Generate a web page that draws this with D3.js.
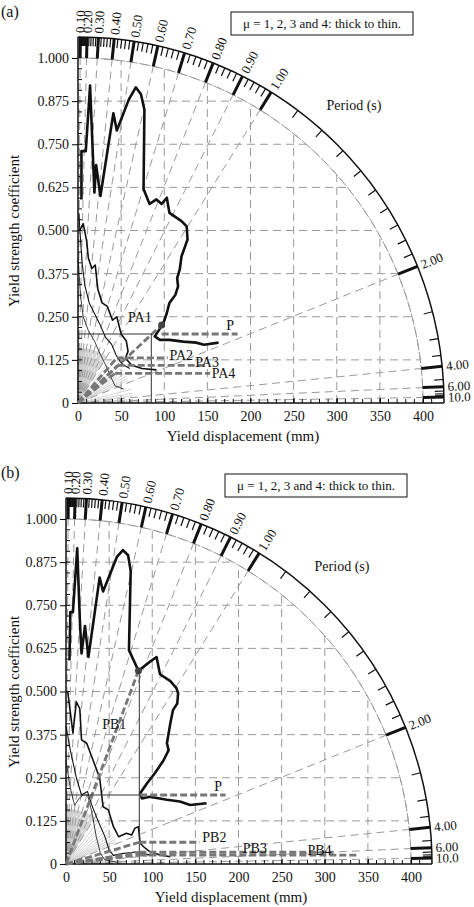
<!DOCTYPE html>
<html><head><meta charset="utf-8">
<script src="https://cdn.jsdelivr.net/npm/d3@7"></script>
<style>body{margin:0;background:#fff}svg{display:block}svg text{font-family:"Liberation Serif","Times New Roman",serif !important;fill:#111}</style>
</head><body>
<svg id="chart" width="474" height="907" font-family="Liberation Serif"></svg>
<script>
// axis ticks
const xTicks = [0, 50, 100, 150, 200, 250, 300, 350, 400];
const yTicks = [0, 0.125, 0.25, 0.375, 0.5, 0.625, 0.75, 0.875, 1.0];
const periodLabels = [0.1, 0.2, 0.3, 0.4, 0.5, 0.6, 0.7, 0.8, 0.9, 1.0, 2.0, 4.0, 6.0, 10.0];
const periodLabelText = ['0.10','0.20','0.30','0.40','0.50','0.60','0.70','0.80','0.90','1.00','2.00','4.00','6.00','10.0'];
const periodMinor = [0.11,0.12,0.13,0.14,0.15,0.16,0.17,0.18,0.19,0.22,0.24,0.26,0.28,0.32,0.34,0.36,0.38,0.42,0.44,0.46,0.48,
  0.52,0.54,0.56,0.58,0.62,0.64,0.66,0.68,0.72,0.74,0.76,0.78,0.82,0.84,0.86,0.88,0.92,0.94,0.96,0.98,
  1.1,1.2,1.3,1.4,1.5,1.6,1.7,1.8,1.9,2.5,3.0,3.5,5.0,7.0,8.0,9.0];

// panel (a) curves: [displacement mm, yield strength coefficient]
const a_mu1 = [[4,0.59],[4,0.73],[9,0.73],[14,0.92],[19,0.61],[21,0.69],[26,0.60],[41,0.84],[45,0.79],[59,0.88],[67,0.915],[73,0.895],[77,0.85],
  [76,0.62],[83,0.577],[91,0.59],[97,0.577],[103,0.595],[106,0.551],[120,0.527],[126,0.512],[127,0.474],[120,0.425],[118,0.387],[115,0.362],
  [116,0.338],[113,0.314],[106,0.29],[103,0.261],[99,0.232],[94,0.212],[89,0.193],[95,0.183],[106,0.183],[122,0.178],[137,0.175],[146,0.169],[163,0.175]];
const a_mu2 = [[2,0.50],[6,0.52],[10,0.47],[12,0.42],[16,0.39],[20,0.40],[23,0.33],[28,0.29],[34,0.28],[40,0.24],[45,0.25],[50,0.20],[56,0.18],
  [58,0.15],[55,0.13],[62,0.11],[74,0.10],[91,0.096]];
const a_mu3 = [[1,0.55],[3,0.47],[5,0.40],[8,0.34],[13,0.29],[19,0.26],[25,0.23],[32,0.19],[39,0.17],[44,0.14],[49,0.12],[53,0.11],[60,0.10]];
const a_mu4 = [[0,0.42],[3,0.31],[6,0.25],[12,0.21],[19,0.18],[26,0.14],[34,0.10],[39,0.07],[43,0.05],[48,0.045],[53,0.04]];

// panel (b) curves
const b_mu1 = [[4,0.59],[5,0.73],[8,0.73],[13,0.915],[16,0.71],[18,0.61],[22,0.69],[26,0.60],[39,0.83],[43,0.79],[59,0.89],[66,0.91],[72,0.895],
  [75,0.85],[73,0.62],[84,0.56],[94,0.58],[105,0.60],[109,0.55],[121,0.53],[128,0.51],[130,0.495],[129,0.465],[124,0.446],[121,0.408],
  [117,0.35],[119,0.33],[113,0.30],[103,0.263],[94,0.234],[86,0.205],[88,0.19],[97,0.195],[117,0.186],[132,0.181],[144,0.171],[163,0.176]];
const b_mu2 = [[2,0.50],[5,0.44],[8,0.38],[12,0.47],[16,0.45],[18,0.36],[24,0.35],[30,0.31],[39,0.25],[43,0.166],[49,0.157],[55,0.108],
  [61,0.079],[70,0.089],[76,0.084],[80,0.104],[84,0.108],[86,0.06],[90,0.05],[97,0.036],[109,0.026],[121,0.021]];
const b_mu3 = [[0,0.40],[5,0.33],[12,0.25],[18,0.20],[25,0.21],[30,0.17],[38,0.12],[45,0.08],[50,0.04],[55,0.025],[65,0.03],[80,0.035],[100,0.025]];
const b_mu4 = [[0,0.30],[5,0.22],[10,0.17],[15,0.19],[20,0.20],[25,0.20],[30,0.15],[35,0.08],[40,0.03],[45,0.012],[60,0.005]];

// performance points and lines
const a_points = [
  {name:'PA2', x:45, y:0.131, x1:45, x2:104, ly:0.131, lx:106, ty:0.14},
  {name:'PA3', x:46, y:0.109, x1:46, x2:147, ly:0.109, lx:136, ty:0.118},
  {name:'PA4', x:43, y:0.086, x1:43, x2:153, ly:0.086, lx:155, ty:0.086}];
const b_points = [
  {name:'PB2', x:85, y:0.063, x1:85, x2:155, ly:0.063, lx:158, ty:0.078},
  {name:'PB3', x:85, y:0.034, x1:85, x2:310, ly:0.034, lx:205, ty:0.045},
  {name:'PB4', x:85, y:0.026, x1:85, x2:339, ly:0.026, lx:280, ty:0.040}];

const svg = d3.select('#chart');
const R = 345, Rout = 366;
const FONT = 'Liberation Serif';

function drawPanel(cfg) {
  const ox = cfg.ox, oy = cfg.oy;
  const x = d3.scaleLinear().domain([0, 400]).range([ox, ox + R]);
  const y = d3.scaleLinear().domain([0, 1]).range([oy, oy - R]);
  const g = svg.append('g');
  const grey = '#9a9a9a';

  // angle of a period line
  const ang = T => { const xm = 9810 * Math.pow(T / (2 * Math.PI), 2); return Math.atan2(y(0) - y(1), x(xm) - x(0)); };
  const pt = (a, r) => [ox + r * Math.cos(a), oy - r * Math.sin(a)];

  // grid clipped to inner arc
  yTicks.slice(1).forEach(v => {
    const dy = oy - y(v); if (dy >= R) return;
    g.append('line').attr('x1', ox).attr('x2', ox + Math.sqrt(R * R - dy * dy)).attr('y1', y(v)).attr('y2', y(v))
      .attr('stroke', grey).attr('stroke-dasharray', '8,5').attr('stroke-width', 1);
  });
  xTicks.slice(1).forEach(v => {
    const dx = x(v) - ox; if (dx >= R) return;
    g.append('line').attr('x1', x(v)).attr('x2', x(v)).attr('y1', oy).attr('y2', oy - Math.sqrt(R * R - dx * dx))
      .attr('stroke', grey).attr('stroke-dasharray', '8,5').attr('stroke-width', 1);
  });
  // inner dashed arc + outer arc
  const arc = d3.arc();
  g.append('path').attr('transform', `translate(${ox},${oy})`)
    .attr('d', arc({innerRadius: R, outerRadius: R, startAngle: 0, endAngle: Math.PI / 2}))
    .attr('fill', 'none').attr('stroke', grey).attr('stroke-dasharray', '8,5');
  g.append('path').attr('transform', `translate(${ox},${oy})`)
    .attr('d', arc({innerRadius: Rout, outerRadius: Rout, startAngle: 0, endAngle: Math.PI / 2}))
    .attr('fill', 'none').attr('stroke', '#111').attr('stroke-width', 1.5);

  // radial period lines
  periodMinor.forEach(T => {
    const a = ang(T), p = pt(a, 55);
    g.append('line').attr('x1', ox).attr('y1', oy).attr('x2', p[0]).attr('y2', p[1]).attr('stroke', '#c8c8c8').attr('stroke-width', 0.8);
    const q1 = pt(a, Rout - 9), q2 = pt(a, Rout);
    g.append('line').attr('x1', q1[0]).attr('y1', q1[1]).attr('x2', q2[0]).attr('y2', q2[1]).attr('stroke', '#111').attr('stroke-width', 1.2);
  });
  periodLabels.forEach((T, i) => {
    const a = ang(T), p = pt(a, R);
    g.append('line').attr('x1', ox).attr('y1', oy).attr('x2', p[0]).attr('y2', p[1])
      .attr('stroke', grey).attr('stroke-dasharray', '8,5').attr('stroke-width', 1);
    const q2 = pt(a, Rout);
    g.append('line').attr('x1', p[0]).attr('y1', p[1]).attr('x2', q2[0]).attr('y2', q2[1]).attr('stroke', '#111').attr('stroke-width', 3);
    const t = pt(a, Rout + 4);
    g.append('text').attr('transform', `translate(${t[0]},${t[1]}) rotate(${-a * 180 / Math.PI})`)
      .attr('dy', '0.35em').attr('font-size', 13).text(periodLabelText[i]);
  });

  // axes
  const xa = g.append('g').attr('transform', `translate(0,${oy})`)
    .call(d3.axisBottom(x).tickValues(xTicks).tickSizeInner(-5).tickSizeOuter(0).tickPadding(8));
  xa.attr('font-family', FONT);
  xa.select('.domain').remove();
  xa.selectAll('text').attr('font-size', 14);
  g.append('line').attr('x1', ox).attr('x2', ox + Rout).attr('y1', oy).attr('y2', oy).attr('stroke', '#111').attr('stroke-width', 1.5);
  g.selectAll(null).data(d3.range(10, 420, 10)).join('line')
    .attr('x1', d => x(d)).attr('x2', d => x(d)).attr('y1', oy).attr('y2', oy - 4).attr('stroke', '#111');
  const ya = g.append('g').attr('transform', `translate(${ox},0)`)
    .call(d3.axisLeft(y).tickValues(yTicks).tickSize(6).tickPadding(3).tickFormat(d => d === 0 ? '0' : d3.format('.3f')(d)));
  ya.attr('font-family', FONT);
  ya.select('.domain').remove();
  ya.selectAll('text').attr('font-size', 14);
  g.append('line').attr('x1', ox).attr('x2', ox).attr('y1', oy).attr('y2', oy - Rout).attr('stroke', '#111').attr('stroke-width', 1.5);
  g.selectAll(null).data(d3.range(0.03125, 1.0, 0.03125)).join('line')
    .attr('x1', ox).attr('x2', ox + 4).attr('y1', d => y(d)).attr('y2', d => y(d)).attr('stroke', '#111');

  g.append('text').attr('x', ox + 165).attr('y', oy + 38).attr('text-anchor', 'middle').attr('font-size', 15).text('Yield displacement (mm)');
  g.append('text').attr('transform', `translate(19,${oy - 172}) rotate(-90)`).attr('text-anchor', 'middle')
    .attr('font-size', 15).text('Yield strength coefficient');

  // curves
  const line = d3.line().x(d => x(d[0])).y(d => y(d[1]));
  const widths = [2.6, 1.6, 1.1, 0.8];
  cfg.curves.forEach((c, i) => g.append('path').datum(c).attr('d', line).attr('fill', 'none')
    .attr('stroke', '#111').attr('stroke-width', widths[i]).attr('stroke-linejoin', 'round'));

  // performance point lines
  const dash = sel => sel.attr('stroke', '#777').attr('stroke-width', 2.8).attr('stroke-dasharray', '7,3').attr('fill', 'none');
  const p1 = cfg.main;
  g.append('line').attr('x1', x(0)).attr('y1', y(0)).attr('x2', x(p1.x)).attr('y2', y(p1.y)).call(dash);
  g.append('circle').attr('cx', x(p1.x)).attr('cy', y(p1.y)).attr('r', 3.5).attr('fill', '#444');
  g.append('line').attr('x1', x(p1.px1)).attr('x2', x(185)).attr('y1', y(0.2)).attr('y2', y(0.2)).call(dash);
  g.append('text').attr('x', x(172)).attr('y', y(0.212)).attr('font-size', 14).text('P');
  g.append('text').attr('x', x(p1.lx)).attr('y', y(p1.ly)).attr('font-size', 14).text(p1.name);
  g.append('line').attr('x1', x(0)).attr('x2', x(85)).attr('y1', y(0.2)).attr('y2', y(0.2)).attr('stroke', '#333').attr('stroke-width', 1);
  g.append('line').attr('x1', x(85)).attr('x2', x(85)).attr('y1', y(0)).attr('y2', y(p1.vtop)).attr('stroke', '#333').attr('stroke-width', 1);
  cfg.points.forEach(p => {
    g.append('line').attr('x1', x(0)).attr('y1', y(0)).attr('x2', x(p.x)).attr('y2', y(p.y)).call(dash);
    g.append('line').attr('x1', x(p.x1)).attr('x2', x(p.x2)).attr('y1', y(p.ly)).attr('y2', y(p.ly)).call(dash);
    g.append('text').attr('x', x(p.lx)).attr('y', y(p.ty)).attr('dy', '0.35em').attr('font-size', 14).text(p.name);
  });

  // legend + labels
  g.append('rect').attr('x', cfg.lg[0]).attr('y', cfg.lg[1]).attr('width', 182).attr('height', 23).attr('fill', '#fff').attr('stroke', '#111');
  g.append('text').attr('x', cfg.lg[0] + 91).attr('y', cfg.lg[1] + 16).attr('text-anchor', 'middle').attr('font-size', 13)
    .text('\u03bc = 1, 2, 3 and 4: thick to thin.');
  g.append('text').attr('x', ox + 276).attr('y', oy - 293).attr('text-anchor', 'middle').attr('font-size', 14).text('Period (s)');
  g.append('text').attr('x', 1).attr('y', cfg.oy - 386).attr('font-size', 16).text(cfg.tag);
}

drawPanel({ox: 78, oy: 403, tag: '(a)', lg: [231, 12], curves: [a_mu1, a_mu2, a_mu3, a_mu4],
  main: {x: 97, y: 0.226, px1: 97, name: 'PA1', lx: 58, ly: 0.235, vtop: 0.2}, points: a_points});
drawPanel({ox: 66, oy: 864, tag: '(b)', lg: [225, 474], curves: [b_mu1, b_mu2, b_mu3, b_mu4],
  main: {x: 84, y: 0.56, px1: 86, name: 'PB1', lx: 42, ly: 0.39, vtop: 0.56}, points: b_points});
</script>
</body></html>
